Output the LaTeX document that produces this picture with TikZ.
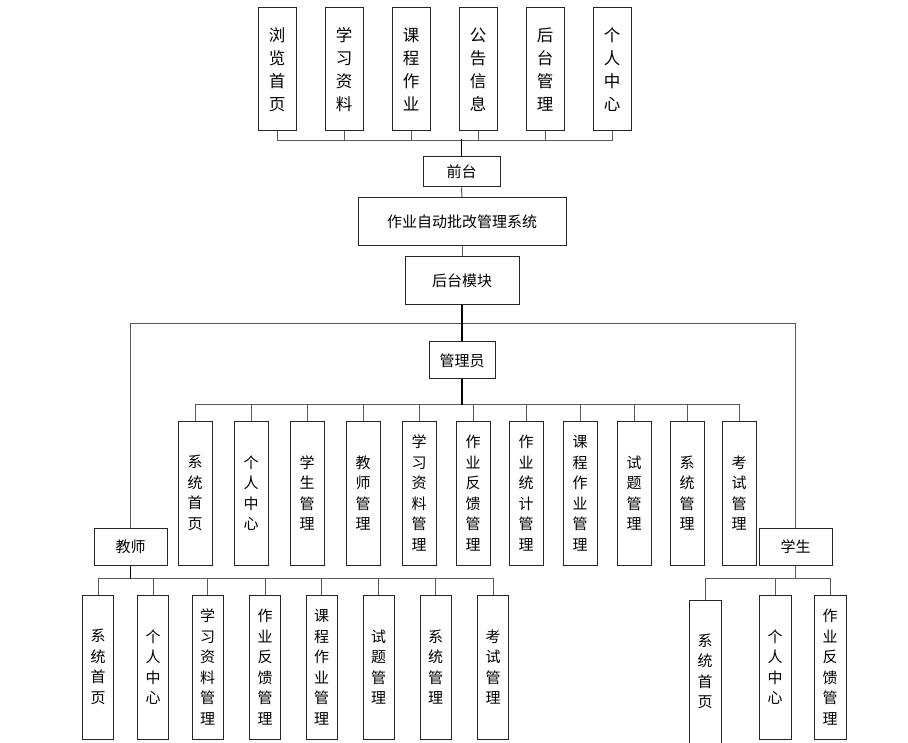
\documentclass[tikz,border=0pt]{standalone}
\usepackage{fontspec}
\newfontfamily\cjk{Noto Sans CJK SC}
\tikzset{
  box/.style={draw=black!85, line width=1pt, fill=white, inner sep=0pt, align=center,
    font=\cjk\fontsize{15}{17}\selectfont},
  vbox/.style={box, minimum width=34pt, minimum height=144pt,
    font=\cjk\fontsize{15}{20.5}\selectfont},
  topbox/.style={box, minimum width=38pt, minimum height=123pt,
    font=\cjk\fontsize{16.5}{23}\selectfont},
  link/.style={draw=black!65, line width=1pt},
  trunk/.style={draw=black, line width=1.1pt},
}
\begin{document}
\begin{tikzpicture}[x=1pt, y=-1pt]
  \useasboundingbox (0,0) rectangle (908,743);
  % Front part.
  \foreach \name/\txt [count=\i from 0] in {f1/浏\\览\\首\\页, f2/学\\习\\资\\料,
      f3/课\\程\\作\\业, f4/公\\告\\信\\息, f5/后\\台\\管\\理, f6/个\\人\\中\\心}
    \node[topbox] (\name) at ({277+67*\i},69.5) {\txt};
  \node[box, minimum width=77pt, minimum height=30pt] (front) at (461.5,172) {前台};
  \node[box, minimum width=208pt, minimum height=48pt] (sys) at (462,222) {作业自动批改管理系统};
  \node[box, minimum width=114pt, minimum height=48pt] (back) at (462,281) {后台模块};
  \foreach \name in {f1,f2,f3,f4,f5,f6}
    \draw[link] (\name.south) -- ++(0,9) -| (front.north);
  \draw[trunk] (front.north) -- ++(0,-17);
  \draw[link] (front.south) -- (sys.north);
  \draw[link] (sys.south) -- (back.north);
  % Three roles.
  \node[box, minimum width=66pt, minimum height=37pt] (admin) at (462,360.5) {管理员};
  \node[box, minimum width=73pt, minimum height=37pt] (teacher) at (130.5,546.5) {教师};
  \node[box, minimum width=73pt, minimum height=37pt] (student) at (795.5,546.5) {学生};
  \draw[link] (back.south) -- ++(0,18) -| (teacher.north);
  \draw[link] (back.south) -- ++(0,18) -| (student.north);
  \draw[trunk] (back.south) -- (admin.north);
  % Administrator.
  \foreach \name/\x/\txt in {a1/195/系\\统\\首\\页, a2/251/个\\人\\中\\心,
      a3/307/学\\生\\管\\理, a4/363/教\\师\\管\\理, a5/419/学\\习\\资\\料\\管\\理,
      a6/473/作\\业\\反\\馈\\管\\理, a7/526/作\\业\\统\\计\\管\\理,
      a8/580/课\\程\\作\\业\\管\\理, a9/634/试\\题\\管\\理,
      a10/687/系\\统\\管\\理, a11/739/考\\试\\管\\理} {
    \node[vbox] (\name) at (\x,493) {\txt};
    \draw[link] (admin.south) -- ++(0,25) -| (\name.north);
  }
  \draw[trunk] (admin.south) -- ++(0,25);
  % Teacher.
  \foreach \name/\x/\txt in {t1/98/系\\统\\首\\页, t2/153/个\\人\\中\\心,
      t3/207.5/学\\习\\资\\料\\管\\理, t4/265/作\\业\\反\\馈\\管\\理,
      t5/321.5/课\\程\\作\\业\\管\\理, t6/378.5/试\\题\\管\\理,
      t7/435.5/系\\统\\管\\理, t8/493/考\\试\\管\\理} {
    \node[vbox, minimum width=31pt] (\name) at (\x,667) {\txt};
    \draw[link] (teacher.south) -- ++(0,13) -| (\name.north);
  }
  \draw[trunk] (teacher.south) -- ++(0,13);
  % Student.
  \node[vbox, minimum width=32pt, minimum height=143pt] (s1) at (705,671.5) {系\\统\\首\\页};
  \node[vbox, minimum width=32pt] (s2) at (775,667) {个\\人\\中\\心};
  \node[vbox, minimum width=32pt] (s3) at (830,667) {作\\业\\反\\馈\\管\\理};
  \foreach \name in {s1,s2,s3}
    \draw[link] (student.south) -- ++(0,13) -| (\name.north);
\end{tikzpicture}
\end{document}
